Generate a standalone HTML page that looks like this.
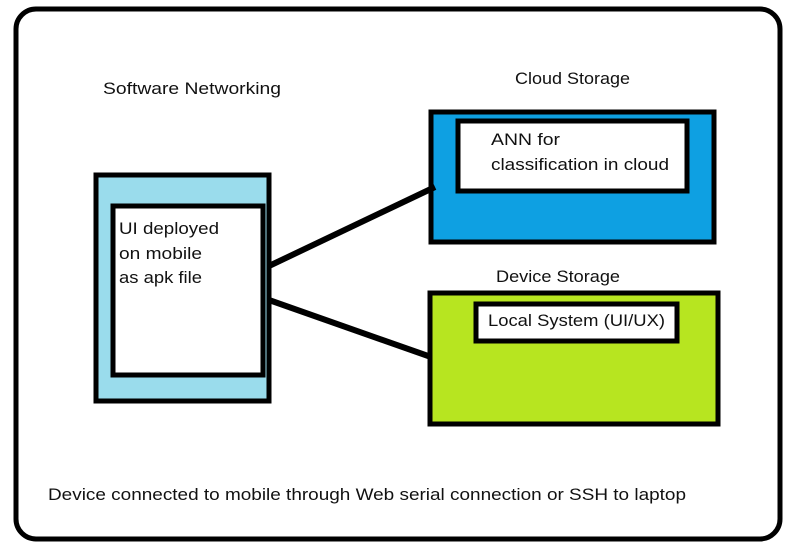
<!DOCTYPE html>
<html><head><style>body{margin:0;background:#fff}svg{display:block}</style></head><body>
<svg width="794" height="547" viewBox="0 0 794 547" font-family="Liberation Sans, sans-serif" font-size="17" fill="#111">
<rect x="16" y="9" width="764" height="530" rx="20" fill="#fff" stroke="#000" stroke-width="5"/>
<text x="103" y="94" textLength="178" lengthAdjust="spacingAndGlyphs">Software Networking</text>
<text x="515" y="84" textLength="115" lengthAdjust="spacingAndGlyphs">Cloud Storage</text>
<text x="496" y="282" textLength="124" lengthAdjust="spacingAndGlyphs">Device Storage</text>
<rect x="96" y="175" width="173" height="226" fill="#9adcec" stroke="#000" stroke-width="5"/>
<rect x="113" y="206" width="150" height="169" fill="#fff" stroke="#000" stroke-width="5"/>
<text x="119" y="234" textLength="100" lengthAdjust="spacingAndGlyphs">UI deployed</text>
<text x="119" y="259" textLength="83" lengthAdjust="spacingAndGlyphs">on mobile</text>
<text x="119" y="283" textLength="83" lengthAdjust="spacingAndGlyphs">as apk file</text>
<rect x="431" y="112" width="283" height="130" fill="#0ea0e2" stroke="#000" stroke-width="5"/>
<rect x="458" y="121" width="229" height="70" fill="#fff" stroke="#000" stroke-width="5"/>
<text x="491" y="145" textLength="69" lengthAdjust="spacingAndGlyphs">ANN for</text>
<text x="491" y="170" textLength="178" lengthAdjust="spacingAndGlyphs">classification in cloud</text>
<rect x="430" y="293" width="288" height="131" fill="#b7e520" stroke="#000" stroke-width="5"/>
<rect x="476" y="304" width="201" height="37" fill="#fff" stroke="#000" stroke-width="5"/>
<text x="488" y="326" textLength="177" lengthAdjust="spacingAndGlyphs">Local System (UI/UX)</text>
<line x1="269" y1="266" x2="435" y2="187" stroke="#000" stroke-width="6"/>
<line x1="269" y1="300" x2="431" y2="357" stroke="#000" stroke-width="6"/>
<text x="48" y="500" textLength="638" lengthAdjust="spacingAndGlyphs">Device connected to mobile through Web serial connection or SSH to laptop</text>
</svg>
</body></html>
